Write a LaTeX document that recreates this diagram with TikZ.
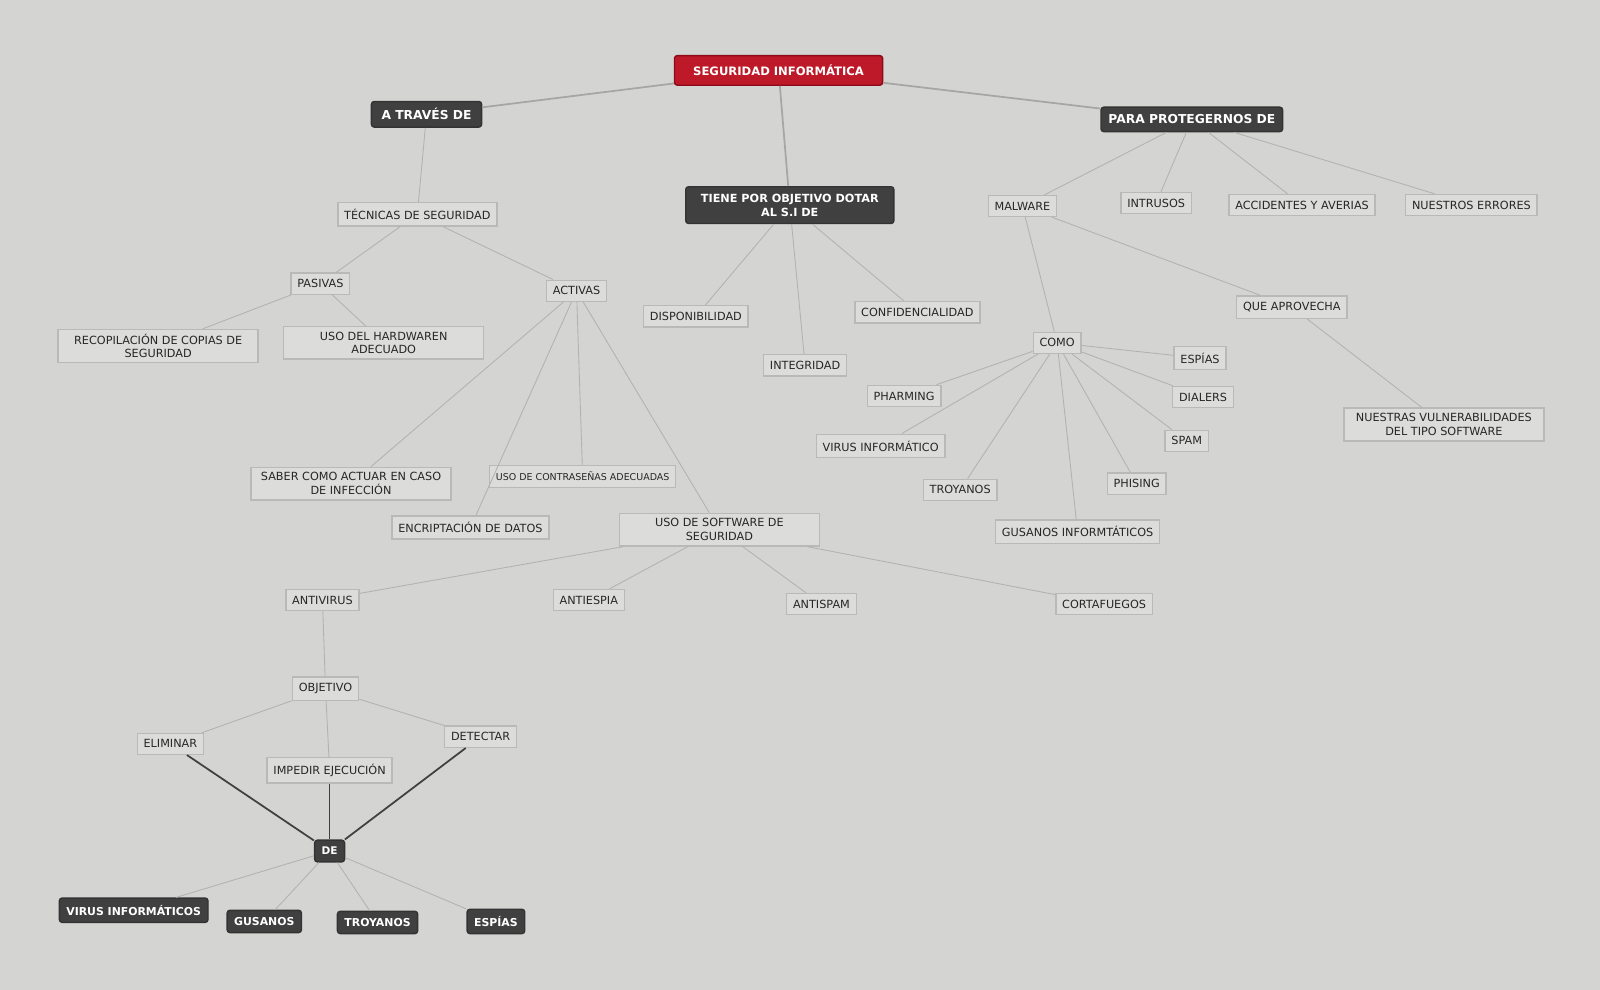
\documentclass[tikz,border=0pt]{standalone}
\usepackage{fontspec}
\setmainfont{DejaVu Sans}
\definecolor{bgc}{RGB}{212,213,210}
\definecolor{ltf}{RGB}{220,221,218}
\definecolor{ltd}{RGB}{185,186,183}
\definecolor{redf}{RGB}{190,25,40}
\definecolor{redd}{RGB}{140,10,25}
\begin{document}
\begin{tikzpicture}[x=0.010204cm,y=-0.010204cm,
 lt/.style={draw=ltd,fill=ltf,inner sep=1.8pt,font=\fontsize{3.2}{3.9}\selectfont,align=center,text=black!85},
 lb/.style={lt,minimum width=196*0.010204cm,minimum height=32*0.010204cm,inner sep=0.5pt},
 dk/.style={draw=black!80,fill=black!75,rounded corners=0.8pt,text=white,font=\fontsize{3.5}{4.2}\selectfont\bfseries,inner sep=2pt,align=center},
 ln/.style={draw=black!30,line width=0.25pt},
 tl/.style={draw=black!35,line width=0.5pt},
 dl/.style={draw=black!75,line width=0.5pt}]
\fill[bgc] (0,0) rectangle (1568,970);
\useasboundingbox (0,0) rectangle (1568,970);
\node[dk,fill=redf,draw=redd,minimum width=204*0.010204cm,minimum height=29*0.010204cm,font=\fontsize{3.3}{4}\selectfont\bfseries] (root) at (763,69) {SEGURIDAD INFORMÁTICA};
\node[dk,minimum width=108*0.010204cm,minimum height=24*0.010204cm] (atr) at (418,112) {A TRAVÉS DE};
\node[dk,minimum width=178*0.010204cm,minimum height=24*0.010204cm] (pp) at (1168,117) {PARA PROTEGERNOS DE};
\node[dk,minimum width=204*0.010204cm,minimum height=36*0.010204cm,font=\fontsize{3.2}{3.9}\selectfont\bfseries] (tie) at (774,201) {TIENE POR OBJETIVO DOTAR\\AL S.I DE};
\node[lt] (tec) at (409,210) {TÉCNICAS DE SEGURIDAD};
\node[lt] (pas) at (314,278) {PASIVAS};
\node[lt] (act) at (565,285) {ACTIVAS};
\node[lb] (rec) at (155,339) {RECOPILACIÓN DE COPIAS DE\\SEGURIDAD};
\node[lb] (hw) at (376,336) {USO DEL HARDWAREN\\ADECUADO};
\node[lb] (sab) at (344,474) {SABER COMO ACTUAR EN CASO\\DE INFECCIÓN};
\node[lt,font=\fontsize{2.7}{3.3}\selectfont] (con) at (571,467) {USO DE CONTRASEÑAS ADECUADAS};
\node[lt] (enc) at (461,517) {ENCRIPTACIÓN DE DATOS};
\node[lb] (sof) at (705,519) {USO DE SOFTWARE DE\\SEGURIDAD};
\node[lt] (antv) at (316,588) {ANTIVIRUS};
\node[lt] (ante) at (577,588) {ANTIESPIA};
\node[lt] (ants) at (805,592) {ANTISPAM};
\node[lt] (cor) at (1082,592) {CORTAFUEGOS};
\node[lt] (obj) at (319,675) {OBJETIVO};
\node[lt] (eli) at (167,729) {ELIMINAR};
\node[lt] (imp) at (323,755) {IMPEDIR EJECUCIÓN};
\node[lt] (det) at (471,722) {DETECTAR};
\node[dk,font=\fontsize{3}{3.6}\selectfont\bfseries] (de) at (323,834) {DE};
\node[dk,font=\fontsize{3.1}{3.7}\selectfont\bfseries] (vir) at (131,892) {VIRUS INFORMÁTICOS};
\node[dk,font=\fontsize{3.1}{3.7}\selectfont\bfseries] (gus) at (259,903) {GUSANOS};
\node[dk,font=\fontsize{3.1}{3.7}\selectfont\bfseries] (tro) at (370,904) {TROYANOS};
\node[dk,font=\fontsize{3.1}{3.7}\selectfont\bfseries] (esp) at (486,903) {ESPÍAS};
\node[lt] (dis) at (682,310) {DISPONIBILIDAD};
\node[lt] (int) at (789,358) {INTEGRIDAD};
\node[lt] (cnf) at (899,306) {CONFIDENCIALIDAD};
\node[lt] (mal) at (1002,202) {MALWARE};
\node[lt] (intr) at (1133,199) {INTRUSOS};
\node[lt] (acc) at (1276,201) {ACCIDENTES Y AVERIAS};
\node[lt] (err) at (1442,201) {NUESTROS ERRORES};
\node[lt] (que) at (1266,301) {QUE APROVECHA};
\node[lb] (vul) at (1415,416) {NUESTRAS VULNERABILIDADES\\DEL TIPO SOFTWARE};
\node[lt] (como) at (1036,336) {COMO};
\node[lt] (cesp) at (1176,351) {ESPÍAS};
\node[lt] (dia) at (1179,389) {DIALERS};
\node[lt] (spa) at (1163,432) {SPAM};
\node[lt] (phi) at (1114,474) {PHISING};
\node[lt] (cgus) at (1056,521) {GUSANOS INFORMTÁTICOS};
\node[lt] (ctro) at (941,480) {TROYANOS};
\node[lt] (cvir) at (863,437) {VIRUS INFORMÁTICO};
\node[lt] (pha) at (886,388) {PHARMING};
\draw[tl] (root) -- (atr); \draw[tl] (root) -- (pp); \draw[tl] (root) -- (tie);
\draw[ln] (atr) -- (tec);
\draw[ln] (tec) -- (pas); \draw[ln] (tec) -- (act);
\draw[ln] (pas) -- (rec); \draw[ln] (pas) -- (hw);
\draw[ln] (act) -- (sab); \draw[ln] (act) -- (con); \draw[ln] (act) -- (enc); \draw[ln] (act) -- (sof);
\draw[ln] (sof) -- (antv); \draw[ln] (sof) -- (ante); \draw[ln] (sof) -- (ants); \draw[ln] (sof) -- (cor);
\draw[ln] (antv) -- (obj);
\draw[ln] (obj) -- (eli); \draw[ln] (obj) -- (imp); \draw[ln] (obj) -- (det);
\draw[dl] (eli) -- (de); \draw[dl] (imp) -- (de); \draw[dl] (det) -- (de);
\draw[ln] (de) -- (vir); \draw[ln] (de) -- (gus); \draw[ln] (de) -- (tro); \draw[ln] (de) -- (esp);
\draw[ln] (tie) -- (dis); \draw[ln] (tie) -- (int); \draw[ln] (tie) -- (cnf);
\draw[ln] (pp) -- (mal); \draw[ln] (pp) -- (intr); \draw[ln] (pp) -- (acc); \draw[ln] (pp) -- (err);
\draw[ln] (mal) -- (que); \draw[ln] (que) -- (vul); \draw[ln] (mal) -- (como);
\foreach \t in {cesp,dia,spa,phi,cgus,ctro,cvir,pha} \draw[ln] (como) -- (\t);
\end{tikzpicture}
\end{document}
